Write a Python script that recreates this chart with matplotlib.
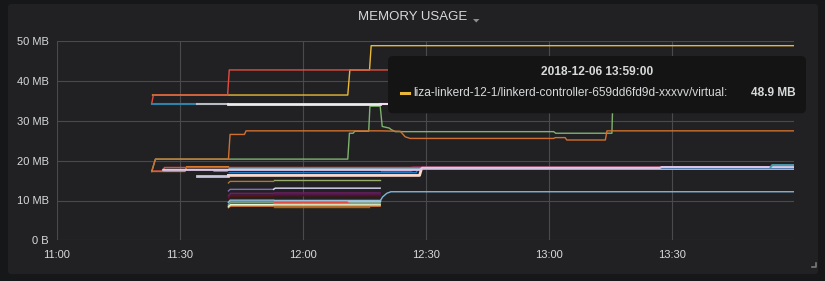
import matplotlib
matplotlib.use("Agg")
import matplotlib.pyplot as plt
from matplotlib.patches import FancyBboxPatch, Polygon
from matplotlib.transforms import IdentityTransform
from matplotlib.lines import Line2D

plt.rcParams['font.family'] = ['Liberation Sans', 'DejaVu Sans']

W, H, DPI = 825, 281, 100

# ---------------- data (x = minutes after 11:00, y = MB) ----------------
x_tick_minutes = [0, 30, 60, 90, 120, 150]
x_tick_labels = ["11:00", "11:30", "12:00", "12:30", "13:00", "13:30"]
y_ticks = [0, 10, 20, 30, 40, 50]
y_tick_labels = ["0 B", "10 MB", "20 MB", "30 MB", "40 MB", "50 MB"]
x_end = 179.7

red_t = [23.1, 23.5, 41.6, 42.0, x_end]
red_v = [34.4, 36.5, 36.5, 42.8, 42.8]

virtual_t = [23.3, 70.9, 71.4, 76.2, 76.6, x_end]
virtual_v = [36.5, 36.5, 42.8, 42.8, 48.9, 48.9]

teal34_t = [23.1, 34.1]
teal34_v = [34.2, 34.2]
gray34_t = [34.1, 41.8]
gray34_v = [34.2, 34.2]
white34_t = [41.8, 78.8]
white34_v = [34.2, 34.2]
pink34_t = [78.8, x_end]
pink34_v = [34.2, 34.2]

green_t = [23.1, 24.0, 70.9, 71.3, 72.2, 72.6, 76.0, 76.3, 78.8, 79.3, 81.0,
           81.5, 82.5, 121.1, 121.6, 135.3, 135.6, x_end]
green_v = [17.3, 20.4, 20.4, 26.9, 26.9, 27.4, 27.4, 33.7, 33.7, 28.6, 28.2,
           27.8, 27.3, 27.3, 26.9, 26.9, 38.0, 38.0]

orange_t = [23.1, 24.0, 41.8, 42.2, 45.7, 46.1, 78.8, 83.7, 84.9, 86.1, 121.1,
            121.5, 123.9, 124.3, 133.7, 134.1, x_end]
orange_v = [17.3, 20.4, 20.4, 26.6, 26.6, 27.5, 27.5, 27.4, 26.0, 25.6, 25.6,
            25.8, 25.8, 25.2, 25.2, 27.5, 27.5]

# ~18 MB band
redlow_t = [23.1, 25.8, 26.2, x_end]
redlow_v = [17.4, 17.4, 18.3, 18.3]
ochre_t = [23.1, 31.2, 31.6, 41.8]
ochre_v = [17.3, 17.3, 18.5, 18.5]
lilac_t = [25.9, 88.5, 89.0, 147.0, 147.4, x_end]
lilac_v = [17.7, 17.7, 18.2, 18.2, 18.4, 18.4]
sky_t = [38.3, 41.5, 42.0, 147.0]
sky_v = [17.4, 17.4, 18.0, 18.0]
teal19_t = [174.0, 174.4, x_end]
teal19_v = [18.4, 18.9, 18.9]
lavender16_t = [34.1, 41.8]
lavender16_v = [16.2, 16.2]
peach_t = [41.8, 88.4, 88.9, x_end]
peach_v = [16.3, 16.3, 18.1, 18.1]
blue_t = [42.0, 87.6, 88.0, x_end]
blue_v = [17.0, 17.0, 18.1, 18.1]
magenta_t = [79.4, 86.3, 86.7, x_end]
magenta_v = [17.6, 17.6, 18.1, 18.1]

# short-lived pods (11:42 -> 12:19)
brown15_t = [41.8, 42.2, 52.8]
brown15_v = [14.4, 14.8, 14.8]
olive15_t = [52.8, 78.8]
olive15_v = [15.1, 15.1]
violet13_t = [41.8, 42.2, 52.8]
violet13_v = [12.4, 12.8, 12.8]
lilac13_t = [52.8, 53.2, 78.8]
lilac13_v = [12.8, 13.1, 13.1]
cluster_t = [41.8, 42.3, 52.6, 53.0, 78.8]
maroon1_v = [11.2, 11.8, 11.8, 11.9, 11.9]
maroon2_v = [10.8, 11.4, 11.4, 11.5, 11.5]
maroon3_v = [10.6, 11.1, 11.1, 11.2, 11.2]
sage_v = [9.0, 9.45, 9.45, 9.45, 9.45]
white9_v = [8.6, 9.0, 9.0, 9.1, 9.1]
gold9_v = [8.4, 8.85, 8.85, 8.85, 8.85]
orange9_v = [8.2, 8.6, 8.6, 8.6, 8.6]
gray10_t = [41.8, 42.2, 52.8]
gray10_v = [9.6, 10.1, 10.1]
pink10_t = [52.8, 78.8]
pink10_v = [10.1, 10.1]
red10_t = [52.8, 71.0]
red10_v = [9.7, 9.7]
ice10_t = [71.0, 78.8]
ice10_v = [9.9, 9.9]
brown8_t = [52.8, 76.0]
brown8_v = [8.45, 8.45]
steel_t = [41.8, 42.2, 78.8, 79.4, 80.4, 81.4, x_end]
steel_v = [9.5, 9.9, 9.9, 10.9, 11.8, 12.2, 12.2]

tooltip_time = "2018-12-06 13:59:00"
tooltip_series = "liza-linkerd-12-1/linkerd-controller-659dd6fd9d-xxxvv/virtual:"
tooltip_value = "48.9 MB"
title = "MEMORY USAGE"

# ---------------- figure ----------------
fig = plt.figure(figsize=(W / DPI, H / DPI), dpi=DPI)
fig.patch.set_facecolor("#161719")

def fx(x):
    return x / W

def fy(y):
    return 1 - y / H

# panel
fig.add_artist(FancyBboxPatch((8, H - 274), 810, 270,
                              boxstyle="round,pad=0,rounding_size=3",
                              transform=IdentityTransform(),
                              facecolor="#212124", edgecolor="none", zorder=0))

ax = fig.add_axes([fx(57), fy(240.3), (794 - 57) / W, (240.3 - 41.3) / H])
ax.set_facecolor("none")
ax.set_xlim(0, x_end)
ax.set_ylim(0, 50)
for s in ax.spines.values():
    s.set_visible(False)
grid_c = "#4a4a4d"
for v in y_ticks:
    ax.axhline(v, color=grid_c, lw=0.8, zorder=0)
for m in x_tick_minutes:
    ax.axvline(m, color=grid_c, lw=0.8, zorder=0)
ax.set_xticks(x_tick_minutes)
ax.set_xticklabels(x_tick_labels)
ax.set_yticks(y_ticks)
ax.set_yticklabels(y_tick_labels)
ax.tick_params(length=0, colors="#d8d9da", labelsize=8)
ax.tick_params(axis="y", pad=6)
ax.tick_params(axis="x", pad=7)

def draw(t, v, c, lw=1.0):
    ax.plot(t, v, color=c, lw=lw, solid_joinstyle="round", zorder=2)

# short-lived cluster
draw(cluster_t, orange9_v, "#EF843C")
draw(brown8_t, brown8_v, "#967302")
draw(cluster_t, gold9_v, "#F2C96D")
draw(cluster_t, white9_v, "#E0F9D7")
draw(cluster_t, sage_v, "#7C9A7E")
draw(red10_t, red10_v, "#E24D42")
draw(ice10_t, ice10_v, "#BADFF4")
draw(gray10_t, gray10_v, "#A0A0A8")
draw(pink10_t, pink10_v, "#FCE2DE")
draw(steel_t, steel_v, "#82B5D8")
draw(cluster_t, maroon3_v, "#58140C")
draw(cluster_t, maroon2_v, "#511749")
draw(cluster_t, maroon1_v, "#6D1F62")
draw(violet13_t, violet13_v, "#806EB7")
draw(lilac13_t, lilac13_v, "#DEDAF7")
draw(brown15_t, brown15_v, "#B7742E")
draw(olive15_t, olive15_v, "#9AAC6A")

# ~18 MB band
draw(magenta_t, magenta_v, "#962D82", 2.5)
draw(lavender16_t, lavender16_v, "#C8C4DC", 2.0)
draw(peach_t, peach_v, "#F9D9CC", 2.0)
draw(blue_t, blue_v, "#1F78C1")
draw(ochre_t, ochre_v, "#D88A2B")
draw(sky_t, sky_v, "#6DB3C8")
draw(redlow_t, redlow_v, "#E24D42")
draw(lilac_t, lilac_v, "#DCC6E6", 1.5)
draw(teal19_t, teal19_v, "#4A9AA8", 1.5)

# upper series
draw(green_t, green_v, "#7EB26D")
draw(orange_t, orange_v, "#D0702F")
draw(teal34_t, teal34_v, "#2E84A8", 1.5)
draw(gray34_t, gray34_v, "#B8BCC6", 1.5)
draw(white34_t, white34_v, "#ECECEC", 2.0)
draw(pink34_t, pink34_v, "#F9D9F9", 1.5)
draw(virtual_t, virtual_v, "#EAB839")
draw(red_t, red_v, "#E24D42")

# title and caret
fig.text(fx(413), fy(17.5), title, ha="center", va="center",
         color="#d8d9da", fontsize=9.5)
fig.add_artist(Polygon([(473, H - 19), (479.5, H - 19), (476.25, H - 22.5)],
                       closed=True, transform=IdentityTransform(),
                       facecolor="#8e8e8e", edgecolor="none"))

# tooltip
fig.add_artist(FancyBboxPatch((388, H - 113.3), 418, 57.3,
                              boxstyle="round,pad=0,rounding_size=5",
                              transform=IdentityTransform(),
                              facecolor="#141414", edgecolor="none", zorder=10))
fig.text(fx(597), fy(71.7), tooltip_time, ha="center", va="center",
         color="#d8d9da", fontsize=8.6, fontweight="bold", zorder=11)
fig.add_artist(Line2D([400.7, 409.3], [H - 92.7, H - 92.7], color="#EAB839",
                      lw=2.2, transform=IdentityTransform(), zorder=11))
fig.text(fx(413.3), fy(93.0), tooltip_series, ha="left", va="center",
         color="#d8d9da", fontsize=8.6, zorder=11)
fig.text(fx(796), fy(93.0), tooltip_value, ha="right", va="center",
         color="#d8d9da", fontsize=8.6, fontweight="bold", zorder=11)

# resize handle
fig.add_artist(Line2D([811.5, 815.5, 815.5], [H - 267, H - 267, H - 263],
                      color="#7a7a7a", lw=1.2, transform=IdentityTransform()))

fig.savefig("out.png", dpi=DPI, facecolor=fig.get_facecolor())
